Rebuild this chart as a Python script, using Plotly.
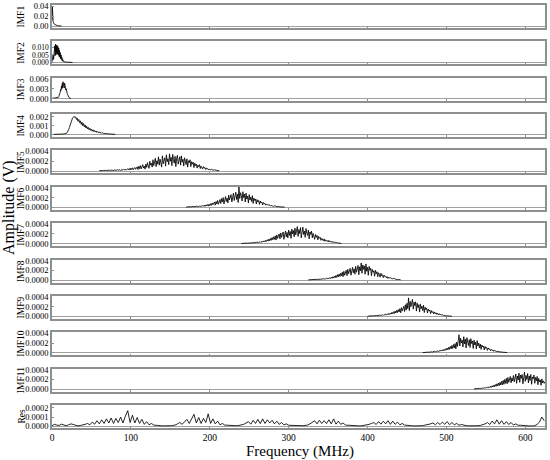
import plotly.graph_objects as go

# ---- data (amplitude spectra of each IMF) ----
# each series: first frequency (MHz), frequency step (MHz), amplitudes in `unit` volts

imf1_f0, imf1_df, imf1_unit = 0, 0.5, 1e-3
imf1_amp = [12, 40, 22, 9, 6, 4.5, 3.5, 3, 2.5, 2, 1.8, 1.5, 1.2, 1, 0.8, 0.6,
            0.5, 0.4, 0.3, 0.3, 0.2, 0.2, 0.15, 0.1, 0.1]

imf2_f0, imf2_df, imf2_unit = 0, 0.5, 1e-4
imf2_amp = [5, 25, 15, 50, 20, 85, 35, 110, 45, 120, 50, 115, 60, 112, 55, 105,
            50, 95, 40, 80, 35, 65, 25, 50, 20, 35, 12, 22, 8, 12, 5, 6, 4, 3.5,
            3, 3, 2.5, 3, 2.5, 2, 2.5, 2, 2, 1.5, 2, 1.5, 1.5, 1, 1.5, 1, 1, 1, 0.8]

imf3_f0, imf3_df, imf3_unit = 0, 0.5, 1e-4
imf3_amp = [1, 1.5, 2, 2, 2.5, 2, 2.5, 2, 2, 2.5, 2, 2.5, 2, 2.5, 3, 2.5,
            4, 6, 9, 12, 17, 20, 28, 25, 38, 30, 46, 33, 51, 36, 49, 32,
            47, 30, 40, 26, 30, 20, 20, 13, 12, 8, 6, 4, 2.5, 1.5, 1, 0.8, 0.5]

imf4_f0, imf4_df, imf4_unit = 0, 1, 1e-5
imf4_amp = [3, 4, 5, 5, 6, 6, 6, 7, 7, 8, 10, 12, 10, 8, 7, 7, 8, 10, 14, 22,
            35, 55, 80, 110, 140, 165, 185, 195, 205, 190, 198, 170, 185, 150,
            170, 135, 155, 115, 140, 100, 125, 88, 110, 75, 95, 65, 82, 55, 72,
            48, 62, 40, 55, 35, 48, 30, 42, 26, 36, 22, 30, 19, 26, 16, 22, 14,
            18, 12, 15, 10, 13, 9, 11, 8, 9, 7, 8, 6, 6, 5, 5]

imf5_f0, imf5_df, imf5_unit = 60, 1, 1e-5
imf5_amp = [0.8, 1.2, 0.6, 1.4, 0.9, 1.1, 1.5, 0.7, 1.3, 1.0,
            1.6, 0.9, 1.4, 1.8, 0.8, 1.5, 2.0, 1.1, 1.7, 1.3,
            2.2, 1.0, 1.9, 2.5, 1.4, 2.1, 2.8, 1.2, 2.4, 3.0,
            1.6, 3.3, 2.2, 4.0, 1.8, 3.6, 4.5, 2.5, 5.2, 2.0,
            5.8, 3.1, 6.5, 2.6, 4.8, 7.2, 3.5, 6.0, 8.5, 3.0,
            9.5, 5.0, 11, 4.2, 8.0, 13, 6.0, 10, 3.8, 14,
            7.5, 17, 10, 5.5, 20, 12, 16, 8, 23, 11,
            18, 26, 9, 21, 14, 29, 12, 24, 17, 8,
            31, 15, 22, 27, 10, 33, 19, 25, 13, 35,
            20, 28, 11, 34, 23, 16, 30, 9, 26, 32,
            14, 22, 29, 12, 31, 18, 24, 10, 27, 20,
            13, 25, 8, 21, 17, 23, 9, 19, 14, 18,
            7, 16, 11, 14, 6, 12, 9, 13, 5, 10,
            8, 4, 9, 6, 7, 3, 6, 4.5, 5, 2.5,
            4, 2.2, 3.5, 1.8, 3, 1.5, 2.4, 1.2, 1.8, 1.0,
            1.2, 0.7, 0.9]

imf6_f0, imf6_df, imf6_unit = 170, 1, 1e-5
imf6_amp = [0.6, 1.0, 0.7, 1.2, 0.8, 1.4, 0.9, 1.5, 1.1, 1.8,
            1.2, 2.0, 1.4, 2.3, 1.6, 2.6, 1.3, 3.0, 1.9, 3.4,
            2.0, 3.8, 2.4, 4.4, 2.1, 5.0, 3.0, 5.8, 2.6, 6.5,
            3.5, 7.5, 4.0, 9.0, 5.5, 8.0, 11, 4.5, 12, 7.0,
            14, 6.5, 10, 16, 8, 18, 11, 20, 7, 17,
            22, 12, 19, 9, 25, 15, 21, 26, 11, 23,
            29, 14, 24, 31, 16, 27, 10, 45, 18, 30,
            25, 13, 32, 20, 27, 11, 29, 17, 23, 9,
            26, 15, 21, 12, 24, 8, 19, 14, 17, 7,
            16, 11, 14, 6, 13, 9, 11, 5, 10, 7,
            8, 4.5, 7, 5, 6, 3.5, 5, 3, 4, 2.5,
            3.5, 2, 3, 1.8, 2.5, 1.5, 2, 1.2, 1.6, 1,
            1.2, 0.8, 1, 0.6, 0.7, 0.5]

imf7_f0, imf7_df, imf7_unit = 240, 1, 1e-5
imf7_amp = [0.5, 0.8, 0.6, 1.0, 0.7, 1.1, 0.9, 1.3, 1.0, 1.5,
            1.1, 1.7, 1.3, 2.0, 1.5, 2.3, 1.6, 2.6, 1.9, 3.0,
            2.1, 3.4, 2.4, 3.9, 2.8, 4.5, 3.1, 5.2, 3.6, 6.0,
            4.0, 7.0, 4.6, 8.2, 5.5, 9.5, 6.0, 11, 7.0, 12.5,
            8, 14, 9, 16, 7.5, 18, 11, 15, 20, 10,
            22, 13, 19, 24, 9, 21, 26, 14, 23, 12,
            28, 17, 25, 11, 30, 20, 27, 14, 32, 18,
            24, 35, 15, 29, 21, 33, 12, 27, 34, 19,
            26, 13, 31, 22, 17, 28, 10, 24, 19, 26,
            12, 21, 16, 9, 19, 13, 17, 8, 15, 11,
            13, 7, 11, 9, 6, 10, 5, 8, 6, 4.5,
            7, 3.5, 6, 4, 3, 5, 2.5, 4, 2, 3,
            1.8, 2.4, 1.4, 1.8, 1.0, 1.2, 0.8, 0.6]

imf8_f0, imf8_df, imf8_unit = 325, 1, 1e-5
imf8_amp = [0.5, 0.7, 0.6, 0.9, 0.7, 1.0, 0.8, 1.2, 0.9, 1.4,
            1.0, 1.6, 1.2, 1.8, 1.3, 2.1, 1.5, 2.4, 1.7, 2.8,
            1.9, 3.2, 2.2, 3.7, 2.5, 4.3, 2.8, 5.0, 3.2, 5.8,
            3.6, 6.8, 4.2, 8.0, 4.8, 9.5, 5.5, 11, 6.5, 12.5,
            7.5, 14, 8.5, 16, 7, 18, 10, 15, 20, 9,
            22, 13, 18, 24, 10, 21, 26, 15, 23, 12,
            28, 16, 25, 30, 11, 27, 19, 35, 14, 31,
            22, 29, 12, 33, 18, 26, 10, 28, 20, 24,
            9, 22, 16, 19, 8, 20, 13, 17, 7, 15,
            12, 6, 14, 9, 11, 5, 10, 7, 8, 4.5,
            7, 3.5, 6, 4, 5, 3, 4, 2.5, 3.5, 2,
            2.5, 1.5, 2, 1.2, 1.4, 0.9, 1, 0.6]

imf9_f0, imf9_df, imf9_unit = 400, 1, 1e-5
imf9_amp = [0.5, 0.8, 0.6, 1.0, 0.7, 1.2, 0.9, 1.4, 1.0, 1.6,
            1.2, 1.9, 1.4, 2.2, 1.6, 2.6, 1.8, 3.0, 2.1, 3.5,
            2.4, 4.0, 2.8, 4.7, 3.2, 5.4, 3.6, 6.2, 4.2, 7.2,
            4.8, 8.3, 5.5, 9.6, 6.2, 11, 7, 12.5, 8, 14,
            9, 16, 7.5, 18, 11, 15, 21, 10, 24, 13,
            27, 16, 38, 12, 31, 20, 26, 35, 15, 29,
            22, 30, 11, 27, 18, 24, 9, 25, 16, 21,
            12, 23, 8, 19, 14, 17, 7, 15, 11, 13,
            6, 12, 8, 10, 5, 9, 6, 7.5, 4, 6.5,
            3.5, 5.5, 3, 4.5, 2.5, 3.5, 2, 2.8, 1.6, 2.2,
            1.2, 1.6, 0.9, 1.2, 0.7, 0.8, 0.5, 0.4]

imf10_f0, imf10_df, imf10_unit = 470, 1, 1e-5
imf10_amp = [0.5, 0.8, 0.6, 1.0, 0.7, 1.2, 0.9, 1.4, 1.1, 1.7,
             1.3, 2.0, 1.5, 2.4, 1.8, 2.8, 2.0, 3.3, 2.4, 3.9,
             2.7, 4.5, 3.1, 5.3, 3.6, 6.2, 4.1, 7.2, 4.8, 8.4,
             5.5, 9.8, 6.3, 11.5, 7.2, 13, 8, 15, 9, 17,
             10, 19, 8, 22, 13, 25, 37, 14, 30, 20,
             26, 12, 33, 18, 28, 10, 31, 22, 15, 27,
             11, 29, 19, 24, 9, 26, 16, 22, 8, 25,
             14, 20, 10, 18, 7, 16, 12, 14, 6, 13,
             9, 11, 5, 10, 7, 8, 4, 7, 5, 6,
             3, 5, 3.5, 4, 2.2, 3.2, 2.4, 2.6, 1.6, 2,
             1.2, 1.6, 1, 1.2, 0.8, 0.8, 0.5, 0.4]

imf11_f0, imf11_df, imf11_unit = 535, 1, 1e-5
imf11_amp = [0.5, 0.8, 0.6, 1.0, 0.8, 1.3, 1.0, 1.6, 1.2, 2.0,
             1.4, 2.4, 1.7, 2.9, 2.0, 3.5, 2.4, 4.2, 2.8, 5.0,
             3.3, 5.9, 3.8, 7, 4.4, 8.2, 5, 9.5, 5.8, 11,
             6.5, 12.5, 7.5, 14, 8.5, 16, 9, 18, 10, 20,
             12, 22, 11, 24, 14, 21, 26, 13, 23, 17,
             28, 15, 25, 31, 12, 27, 19, 33, 14, 29,
             22, 30, 11, 26, 35, 16, 28, 20, 32, 13,
             27, 18, 30, 10, 25, 21, 29, 12, 24, 17,
             26, 9, 22, 15, 19, 8, 21, 13, 17, 12, 15]

res_f0, res_df, res_unit = 0, 3, 1e-6
res_amp = [5, 20, 12, 8, 22, 10, 5, 15, 25, 18, 8, 3, 8,
           12, 20, 30, 15, 45, 22, 60, 25, 70, 30, 80, 35, 90, 30, 85, 40, 100, 35,
           110, 170, 40, 120, 35, 95, 30, 75, 20, 50, 15, 30, 12, 12, 8,
           5, 3, 2, 3, 5, 8,
           12, 25, 40, 20, 45, 75, 30, 90, 130, 35, 95, 30, 85, 40, 135, 30, 80,
           25, 55, 15, 30, 12, 10,
           6, 4, 3, 5, 8, 12,
           20, 35, 50, 22, 65, 30, 75, 28, 80, 30, 70, 35, 65, 25, 55, 20, 40,
           15, 25, 10, 8,
           5, 3, 2, 3, 5, 8, 12,
           25, 45, 60, 25, 65, 30, 60, 28, 70, 25, 80, 22, 55, 20, 35, 12, 10,
           6, 4, 3, 2, 3, 5, 8, 12,
           20, 30, 40, 18, 50, 22, 55, 25, 60, 20, 55, 20, 45, 15, 30, 12, 12, 8,
           5, 3, 2, 3, 5, 8, 12,
           18, 25, 35, 15, 40, 18, 45, 20, 50, 16, 40, 15, 30, 10, 18, 8, 6,
           4, 3, 2, 3, 5, 8,
           15, 25, 40, 18, 55, 25, 70, 22, 60, 20, 50, 18, 40, 12, 25, 10, 10, 7,
           4, 3, 2, 3, 5,
           20, 45, 100, 60]

panel_names = ["IMF1", "IMF2", "IMF3", "IMF4", "IMF5", "IMF6", "IMF7",
               "IMF8", "IMF9", "IMF10", "IMF11", "Res"]
x_ticks = [0, 100, 200, 300, 400, 500, 600]
y_ticks = [[0, 0.02, 0.04], [0, 0.005, 0.010], [0, 0.003, 0.006], [0, 0.001, 0.002]] \
    + [[0, 0.0002, 0.0004]] * 7 + [[0, 0.0001, 0.0002]]
y_formats = [".2f", ".3f", ".3f", ".3f"] + [".4f"] * 8
y_ranges = [[-0.004, 0.043], [-0.0012, 0.0139], [-0.0006, 0.0063], [-0.00026, 0.0023]] \
    + [[-0.00005, 0.00042]] * 7 + [[-0.00002, 0.000232]]

series = [
    (imf1_f0, imf1_df, imf1_unit, imf1_amp),
    (imf2_f0, imf2_df, imf2_unit, imf2_amp),
    (imf3_f0, imf3_df, imf3_unit, imf3_amp),
    (imf4_f0, imf4_df, imf4_unit, imf4_amp),
    (imf5_f0, imf5_df, imf5_unit, imf5_amp),
    (imf6_f0, imf6_df, imf6_unit, imf6_amp),
    (imf7_f0, imf7_df, imf7_unit, imf7_amp),
    (imf8_f0, imf8_df, imf8_unit, imf8_amp),
    (imf9_f0, imf9_df, imf9_unit, imf9_amp),
    (imf10_f0, imf10_df, imf10_unit, imf10_amp),
    (imf11_f0, imf11_df, imf11_unit, imf11_amp),
    (res_f0, res_df, res_unit, res_amp),
]

# ---- layout (pixel geometry of the 550x460 reference) ----
W, H = 550, 460
M_L, M_R, M_T, M_B = 52, 5, 5, 32
plot_h = H - M_T - M_B
plot_w = W - M_L - M_R
panel_h = 23
n = len(series)
pitch = (plot_h - panel_h) / (n - 1)
FONT = "Liberation Serif, Times New Roman, serif"
FRAME = "#8f8f8f"

fig = go.Figure()
layout = {}
annotations = []
for i, (f0, df, unit, amp) in enumerate(series):
    k = "" if i == 0 else str(i + 1)
    freq = [f0 + df * j for j in range(len(amp))]
    volts = [a * unit for a in amp]
    fig.add_trace(go.Scatter(x=freq, y=volts, mode="lines", xaxis="x" + k, yaxis="y" + k,
                             line=dict(color="black", width=0.85), showlegend=False))
    top = min(1.0, 1 - i * pitch / plot_h)
    bot = max(0.0, top - panel_h / plot_h)
    last = i == n - 1
    layout["xaxis" + k] = dict(
        domain=[0, 1], anchor="y" + k, range=[0, 625], tickvals=x_ticks,
        showticklabels=last, ticks="inside", ticklen=2, tickcolor=FRAME,
        showline=True, mirror=True, linecolor=FRAME, linewidth=1.5,
        showgrid=False, zeroline=False, automargin=False,
        tickfont=dict(size=9.5, family=FONT, color="black"),
    )
    # IMF2's three labels sit tightest, so they get a slightly smaller font
    ysize = 7.5 if i == 1 else 8.5
    layout["yaxis" + k] = dict(
        domain=[bot, top], anchor="x" + k, range=y_ranges[i], tickvals=y_ticks[i],
        tickformat=y_formats[i], ticks="inside", ticklen=2, tickcolor=FRAME,
        showline=True, mirror=True, linecolor=FRAME, linewidth=1.5,
        showgrid=False, zeroline=True, zerolinecolor="#a0a0a0", zerolinewidth=1,
        automargin=False, tickfont=dict(size=ysize, family=FONT, color="black"),
    )
    annotations.append(dict(
        text=panel_names[i], x=-31 / plot_w, xref="paper", y=0.5, yref="y" + k + " domain",
        textangle=-90, showarrow=False, xanchor="center", yanchor="middle",
        font=dict(size=9.5, family=FONT, color="black"),
    ))

annotations.append(dict(text="Amplitude (V)", x=-43 / plot_w, xref="paper", y=0.52, yref="paper",
                        textangle=-90, showarrow=False, xanchor="center", yanchor="middle",
                        font=dict(size=16, family=FONT, color="black")))
annotations.append(dict(text="Frequency (MHz)", x=0.503, xref="paper", y=-23 / plot_h, yref="paper",
                        showarrow=False, xanchor="center", yanchor="middle",
                        font=dict(size=15, family=FONT, color="black")))

fig.update_layout(
    width=W, height=H, margin=dict(l=M_L, r=M_R, t=M_T, b=M_B),
    paper_bgcolor="white", plot_bgcolor="white",
    annotations=annotations, **layout,
)

# the page's default body margin would shift the figure inside the window
fig.write_html("out.html", config={"displayModeBar": False},
               post_script="document.body.style.margin='0px';")
